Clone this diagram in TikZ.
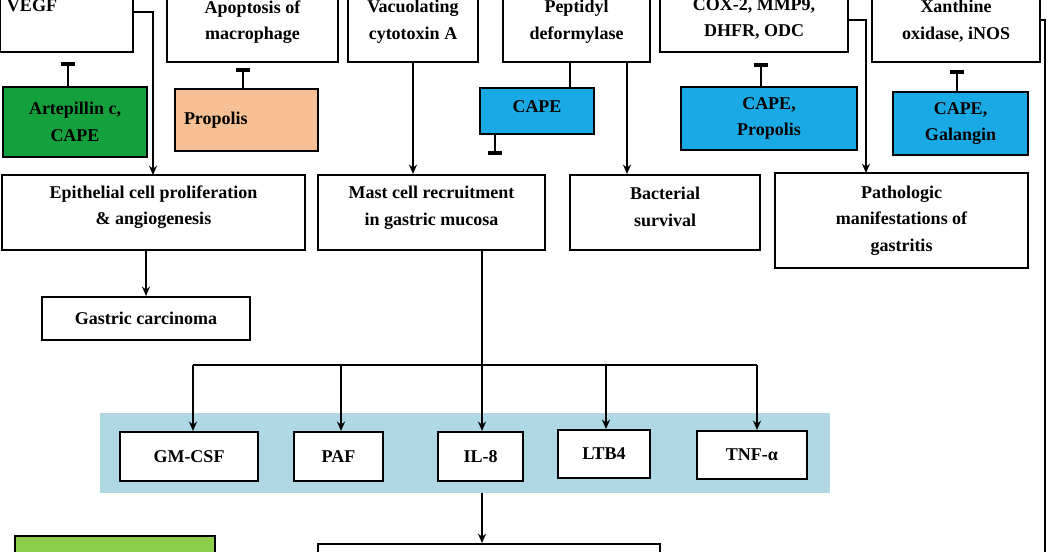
\documentclass[tikz,border=0pt]{standalone}
\usepackage{fontspec}
\setmainfont{Liberation Serif}
\usetikzlibrary{arrows.meta}
\definecolor{gr1}{RGB}{20,160,60}
\definecolor{peach}{RGB}{246,192,148}
\definecolor{cblue}{RGB}{25,170,230}
\definecolor{band}{RGB}{175,215,228}
\definecolor{gr2}{RGB}{140,205,75}
\begin{document}
\begin{tikzpicture}[x=0.75pt,y=-0.75pt,
 every node/.style={font=\bfseries\fontsize{13.5}{20}\selectfont},
 bx/.style={draw,line width=1.6pt,align=center,inner sep=2pt},
 tx/.style={align=center},
 ar/.style={line width=1.2pt,-{Stealth[length=7pt,width=6pt]}},
 inh/.style={line width=1.2pt,-{Bar[width=11pt,line width=3pt]}},
 ln/.style={line width=1.2pt}]
\useasboundingbox (0,0) rectangle (1050,551);
\clip (0,0) rectangle (1050,551);
% top row
\node[bx,minimum width=133*0.75pt,minimum height=82*0.75pt] (vegfbox) at (66.5,11) {};
\node[tx] (vegf) at (32,6) {VEGF};
\coordinate (vegfR) at (133,12);
\node[bx,minimum width=171*0.75pt,minimum height=92*0.75pt] (apo) at (252.5,16) {};
\node[tx] at (252.5,22) {Apoptosis of\\macrophage};
\node[bx,minimum width=130*0.75pt,minimum height=92*0.75pt] (vac) at (413,16) {};
\node[tx] at (413,22) {Vacuolating\\cytotoxin A};
\node[bx,minimum width=147*0.75pt,minimum height=92*0.75pt] (pep) at (576.5,16) {};
\node[tx] at (576.5,22) {Peptidyl\\deformylase};
\node[bx,minimum width=188*0.75pt,minimum height=82*0.75pt] (cox) at (754,11) {};
\node[tx] at (754,19) {COX-2, MMP9,\\DHFR, ODC};
\node[bx,minimum width=168*0.75pt,minimum height=92*0.75pt] (xan) at (956,16) {};
\node[tx] at (956,21) {Xanthine\\oxidase, iNOS};
% coloured
\node[bx,fill=gr1,minimum width=144*0.75pt,minimum height=70*0.75pt] (art) at (75,122) {Artepillin c,\\CAPE};
\node[bx,fill=peach,minimum width=143*0.75pt,minimum height=62*0.75pt,text width=125*0.75pt,align=left] (pro) at (246.5,120) {Propolis};
\node[bx,fill=cblue,minimum width=114*0.75pt,minimum height=46*0.75pt,anchor=north] (cape1) at (537,87) {\raisebox{7pt}{CAPE}};
\node[bx,fill=cblue,minimum width=176*0.75pt,minimum height=63*0.75pt] (cape2) at (769,118.5) {CAPE,\\Propolis};
\node[bx,fill=cblue,minimum width=135*0.75pt,minimum height=63*0.75pt] (cape3) at (960.5,123.5) {CAPE,\\Galangin};
% second row
\node[bx,minimum width=303*0.75pt,minimum height=75*0.75pt] (epi) at (153.5,212.5) {};
\node[tx] at (153.5,207) {Epithelial cell proliferation\\\& angiogenesis};
\node[bx,minimum width=227*0.75pt,minimum height=75*0.75pt] (mast) at (431.5,212.5) {};
\node[tx] at (431.5,208) {Mast cell recruitment\\in gastric mucosa};
\node[bx,minimum width=190*0.75pt,minimum height=75*0.75pt] (bac) at (665,212.5) {};
\node[tx] at (665,207) {Bacterial\\survival};
\node[bx,minimum width=253*0.75pt,minimum height=95*0.75pt] (pat) at (901.5,220.5) {Pathologic\\manifestations of\\gastritis};
\node[bx,minimum width=208*0.75pt,minimum height=43*0.75pt] (gca) at (146,318.5) {Gastric carcinoma};
% band
\fill[band] (100,413) rectangle (830,493);
\node[bx,fill=white,minimum width=138*0.75pt,minimum height=49*0.75pt] (gm) at (189,456.5) {GM-CSF};
\node[bx,fill=white,minimum width=89*0.75pt,minimum height=49*0.75pt] (paf) at (338.5,456.5) {PAF};
\node[bx,fill=white,minimum width=85*0.75pt,minimum height=49*0.75pt] (il8) at (480.5,456.5) {IL-8};
\node[bx,fill=white,minimum width=92*0.75pt,minimum height=48*0.75pt] (ltb) at (604,454) {LTB4};
\node[bx,fill=white,minimum width=110*0.75pt,minimum height=48*0.75pt] (tnf) at (752,455) {TNF-α};
% bottom cut boxes
\node[bx,fill=gr2,minimum width=200*0.75pt,minimum height=50*0.75pt,anchor=north] (bg) at (115,535) {};
\node[bx,minimum width=342*0.75pt,minimum height=40*0.75pt,anchor=north] (bb) at (489,543) {};
% inhibitions
\draw[inh] (art.north -| 68,0) -- (68,62);
\draw[inh] (pro.north -| 243,0) -- (243,68);
\draw[ln] (pep.south -| 570,0) -- (cape1.north -| 570,0);
\draw[inh] (cape1.south -| 495,0) -- (495,155);
\draw[inh] (cape2.north -| 761,0) -- (761,63);
\draw[inh] (cape3.north -| 957,0) -- (957,70);
% arrows
\draw[ar] (vegfR) -- (153,12) -- (153,175);
\draw[ar] (vac.south) -- (mast.north -| vac.south);
\draw[ar] (pep.south -| 627,0) -- (bac.north -| 627,0);
\draw[ar] (cox.east |- 0,20) -- (866,20) -- (866,173);
\coordinate (xend) at (1045,560);
\draw[ln] (xan.east |- 0,20) -- (1045,20) -- (xend);
\draw[ar] (epi.south -| gca.north) -- (gca.north);
\coordinate (sp) at (482,365);
\draw[ar] (mast.south -| sp) -- (il8.north -| sp);
\draw[ln] (193,365) -- (757,365);
\draw[ar] (193,365) -- (gm.north -| 193,0);
\draw[ar] (341,365) -- (paf.north -| 341,0);
\draw[ar] (606,365) -- (ltb.north -| 606,0);
\draw[ar] (757,365) -- (tnf.north -| 757,0);
\draw[ar] (482,493) -- (bb.north -| 482,0);
\end{tikzpicture}
\end{document}
